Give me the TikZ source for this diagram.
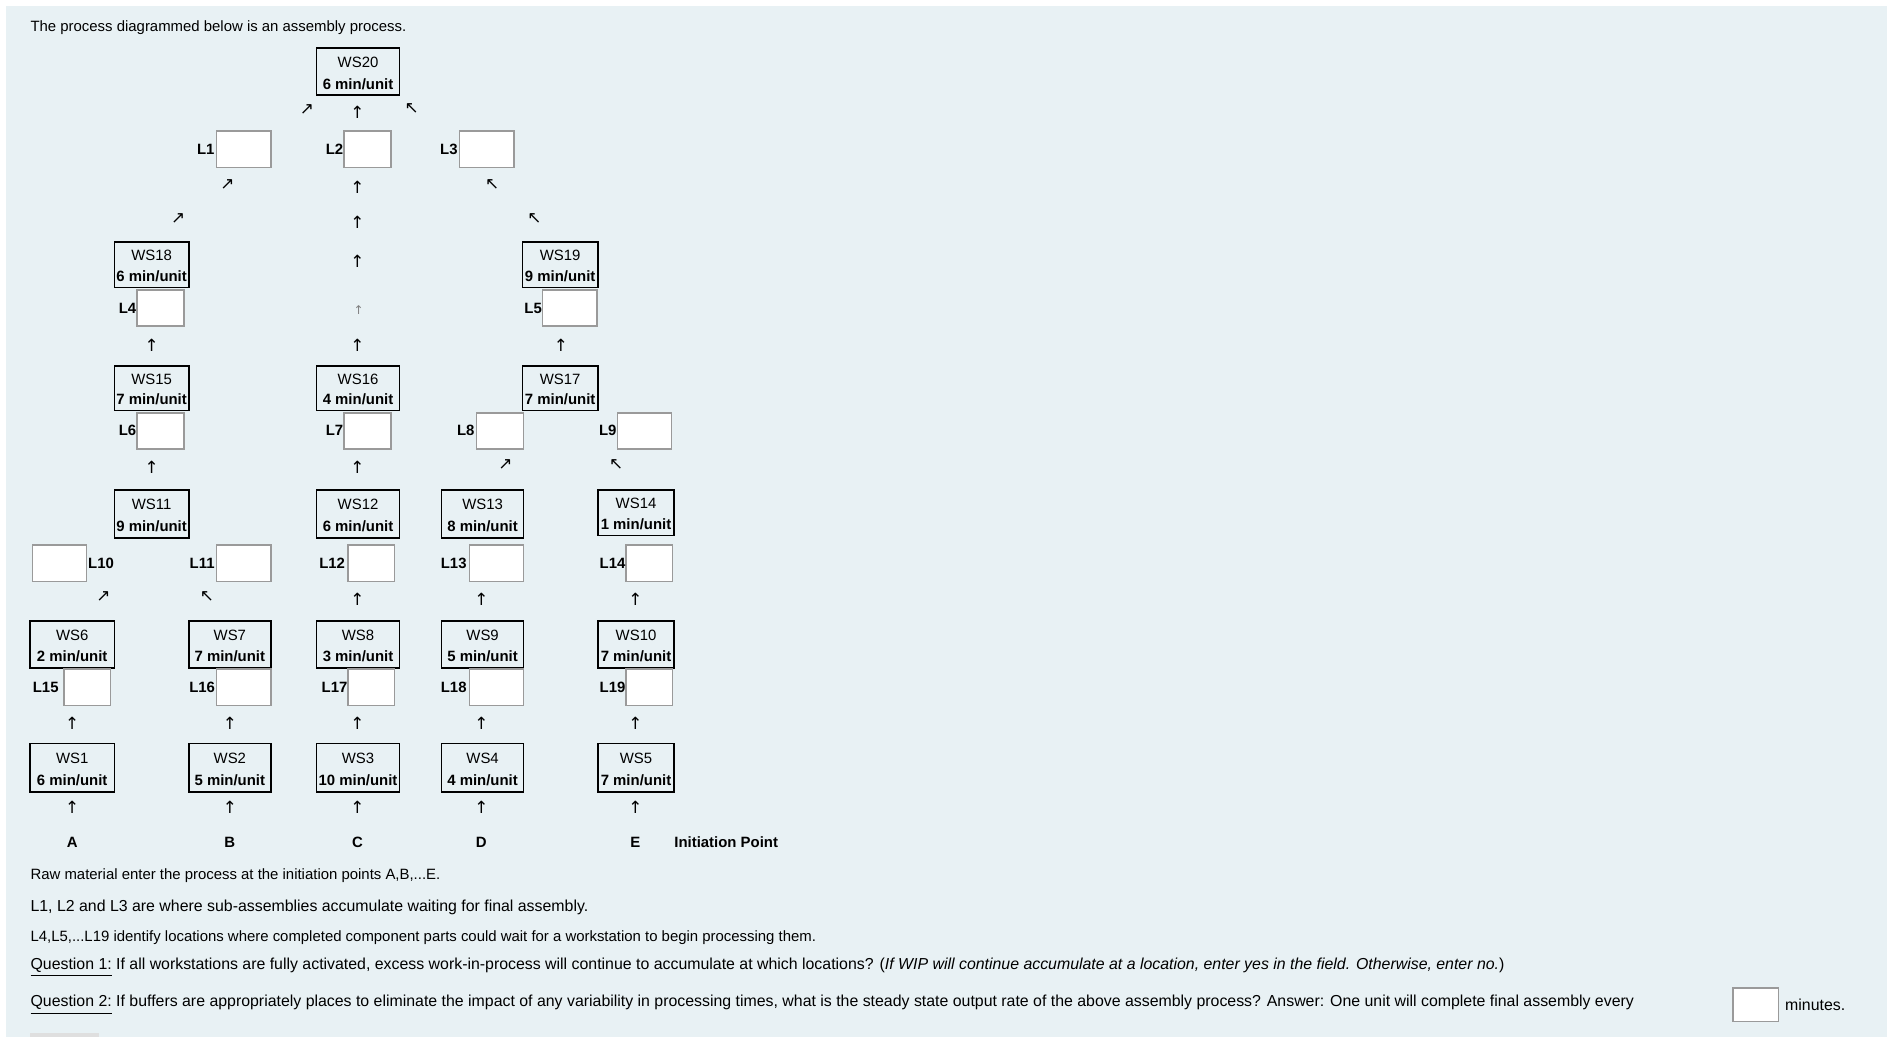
\documentclass[tikz,border=0pt]{standalone}
\usepackage{fontspec}
\setmainfont{Liberation Sans}
\newfontfamily\arrfont{DejaVu Sans}
\definecolor{bgc}{HTML}{E8F1F4}
\definecolor{bufc}{HTML}{9A9A9A}
\tikzset{
  wsbox/.style={draw=black,line width=0.6pt},
  bufbox/.style={draw=bufc,fill=white,line width=0.6pt},
  wstxt/.style={inner sep=0pt,font=\fontsize{6.2}{7}\selectfont},
  bl/.style={inner sep=0pt,font=\fontsize{6.2}{7}\selectfont\bfseries},
  arw/.style={inner sep=0pt,font=\arrfont\fontsize{7}{8}\selectfont},
  para/.style={inner sep=0pt,anchor=west,font=\fontsize{6.6}{8}\selectfont}
}
\newcommand{\wsn}[7]{% name x1 x2 y1 y2 label time
  \draw[wsbox] (#2,#4) rectangle (#3,#5);
  \node[wstxt] (#1) at ({(#2+#3)/2},{#4+0.3*(#5-#4)}) {#6};
  \node[bl] (#1t) at ({(#2+#3)/2},{#4+0.76*(#5-#4)}) {#7};}
\newcommand{\bufn}[6]{% name x1 x2 y1 label labelx
  \draw[bufbox] (#2,#4) rectangle (#3,#4+30);
  \node[bl] (#1) at (#6,#4+15) {#5};}
\newcommand{\ar}[3]{\node[arw] at (#1,#2) {#3};}
\begin{document}
\begin{tikzpicture}[x=0.5pt,y=-0.5pt]
\useasboundingbox (0,0) rectangle (1568,862);
\fill[bgc] (5,5) rectangle (1568,862);
\node[para,font=\fontsize{6.2}{7}\selectfont] (title) at (25,23) {The process diagrammed below is an assembly process.};
% top
\wsn{ws20}{263}{332}{40}{79}{WS20}{6 min/unit}
\ar{255}{91}{↗}\ar{297}{93}{↑}\ar{342}{90}{↖}
\bufn{l1}{180}{225}{109}{L1}{171}
\bufn{l2}{286}{325}{109}{L2}{278}
\bufn{l3}{382}{427}{109}{L3}{373}
\ar{189}{153}{↗}\ar{297}{156}{↑}\ar{409}{153}{↖}
\ar{148}{182}{↗}\ar{297}{185}{↑}\ar{444}{182}{↖}
\wsn{ws18}{95}{157}{201}{239}{WS18}{6 min/unit}
\wsn{ws19}{434}{497}{201}{239}{WS19}{9 min/unit}
\ar{297}{217}{↑}
\bufn{l4}{114}{153}{241}{L4}{106}
\bufn{l5}{451}{496}{241}{L5}{443}
\node[arw,text=gray,font=\arrfont\fontsize{5}{6}\selectfont] at (298,258) {↑};
\ar{126}{287}{↑}\ar{297}{287}{↑}\ar{466}{287}{↑}
\wsn{ws15}{95}{157}{304}{341}{WS15}{7 min/unit}
\wsn{ws16}{263}{332}{304}{341}{WS16}{4 min/unit}
\wsn{ws17}{434}{497}{304}{341}{WS17}{7 min/unit}
\bufn{l6}{114}{153}{343}{L6}{106}
\bufn{l7}{286}{325}{343}{L7}{278}
\bufn{l8}{396}{435}{343}{L8}{387}
\bufn{l9}{513}{558}{343}{L9}{505}
\ar{126}{388}{↑}\ar{297}{388}{↑}\ar{420}{386}{↗}\ar{512}{386}{↖}
\wsn{ws11}{95}{157}{407}{447}{WS11}{9 min/unit}
\wsn{ws12}{263}{332}{407}{447}{WS12}{6 min/unit}
\wsn{ws13}{367}{435}{407}{447}{WS13}{8 min/unit}
\wsn{ws14}{497}{560}{407}{445}{WS14}{1 min/unit}
\draw[bufbox] (27,453) rectangle (72,483); \node[bl] (l10) at (84,468) {L10};
\bufn{l11}{180}{225}{453}{L11}{168}
\bufn{l12}{289}{328}{453}{L12}{276}
\bufn{l13}{390}{435}{453}{L13}{377}
\bufn{l14}{520}{559}{453}{L14}{509}
\ar{86}{496}{↗}\ar{172}{496}{↖}\ar{297}{498}{↑}\ar{400}{498}{↑}\ar{528}{498}{↑}
\wsn{ws6}{25}{95}{516}{555}{WS6}{2 min/unit}
\wsn{ws7}{157}{225}{516}{555}{WS7}{7 min/unit}
\wsn{ws8}{263}{332}{516}{555}{WS8}{3 min/unit}
\wsn{ws9}{367}{435}{516}{555}{WS9}{5 min/unit}
\wsn{ws10}{497}{560}{516}{555}{WS10}{7 min/unit}
\bufn{l15}{53}{92}{556}{L15}{38}
\bufn{l16}{180}{225}{556}{L16}{168}
\bufn{l17}{289}{328}{556}{L17}{278}
\bufn{l18}{390}{435}{556}{L18}{377}
\bufn{l19}{520}{559}{556}{L19}{509}
\foreach \x in {60,191,297,400,528}{\ar{\x}{601}{↑}}
\wsn{ws1}{25}{95}{618}{658}{WS1}{6 min/unit}
\wsn{ws2}{157}{225}{618}{658}{WS2}{5 min/unit}
\wsn{ws3}{263}{332}{618}{658}{WS3}{10 min/unit}
\wsn{ws4}{367}{435}{618}{658}{WS4}{4 min/unit}
\wsn{ws5}{497}{560}{618}{658}{WS5}{7 min/unit}
\foreach \x in {60,191,297,400,528}{\ar{\x}{671}{↑}}
\node[bl] (pa) at (60,700) {A};
\node[bl] (pb) at (191,700) {B};
\node[bl] (pc) at (297,700) {C};
\node[bl] (pd) at (400,700) {D};
\node[bl] (pe) at (528,700) {E};
\node[bl,anchor=west] (ip) at (560,700) {Initiation Point};
% text
\node[para,font=\fontsize{6.2}{7}\selectfont] (t1) at (25,728) {Raw material enter the process at the initiation points A,B,...E.};
\node[para] (t2) at (25,754) {L1, L2 and L3 are where sub-assemblies accumulate waiting for final assembly.};
\node[para,font=\fontsize{6.2}{7}\selectfont] (t3) at (25,779) {L4,L5,...L19 identify locations where completed component parts could wait for a workstation to begin processing them.};
\node[para] (t4) at (25,804) {\underline{Question 1:} If all workstations are fully activated, excess work-in-process will continue to accumulate at which locations? (\textit{If WIP will continue accumulate at a location, enter yes in the field. Otherwise, enter no.})};
\node[para] (t5) at (25,835) {\underline{Question 2:} If buffers are appropriately places to eliminate the impact of any variability in processing times, what is the steady state output rate of the above assembly process? Answer: One unit will complete final assembly every};
\draw[bufbox] (1440,821) rectangle (1478,849);
\node[para] (t6) at (1483,835) {minutes.};
\fill[gray!25] (25,858) rectangle (82,862);
\end{tikzpicture}
\end{document}
